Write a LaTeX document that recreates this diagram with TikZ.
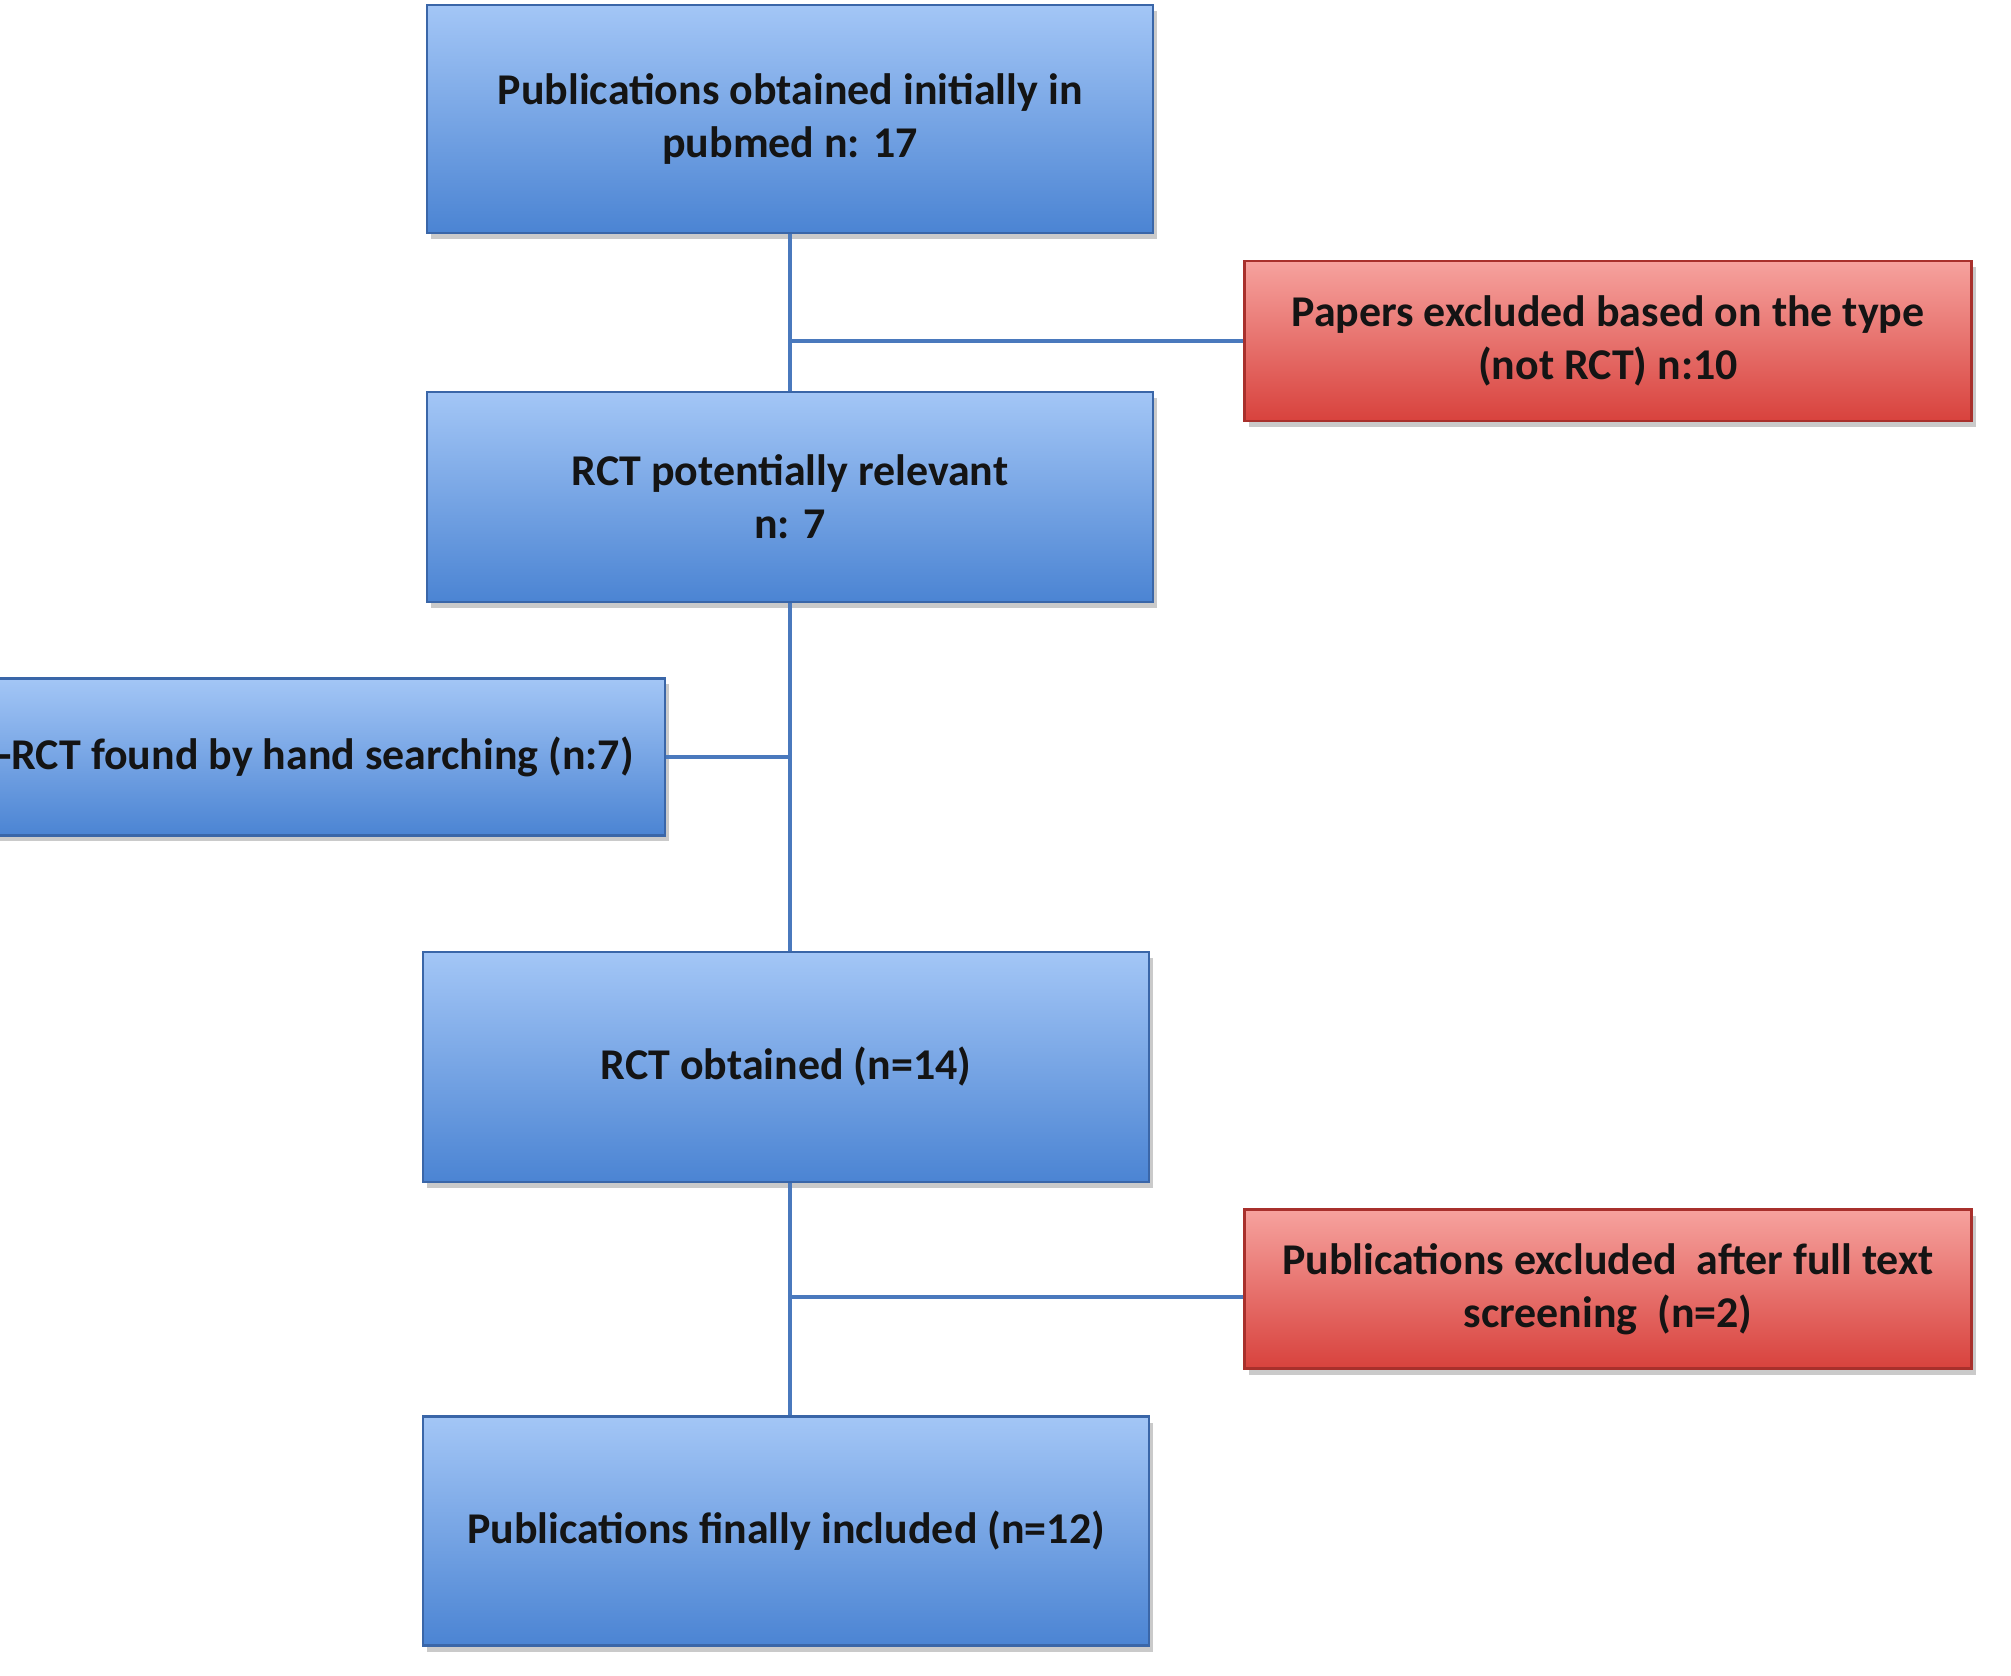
\documentclass[tikz,border=0pt]{standalone}
\usepackage{fontspec}
\setmainfont{Carlito}
\usetikzlibrary{positioning,shadows}
\definecolor{blueTop}{HTML}{A3C6F6}
\definecolor{blueBot}{HTML}{4B84D3}
\definecolor{blueEdge}{HTML}{3A66A8}
\definecolor{redTop}{HTML}{F6A29E}
\definecolor{redBot}{HTML}{D8423D}
\definecolor{redEdge}{HTML}{A8302C}
\definecolor{lineC}{HTML}{4A79BD}
\definecolor{inkC}{HTML}{141414}
\tikzset{
  boxBase/.style={rectangle,line width=0.7pt,align=center,
                  font=\fontsize{12.5}{15}\selectfont\bfseries,text=inkC,
                  inner sep=2pt,
                  drop shadow={shadow xshift=0.4mm,shadow yshift=-0.6mm,
                               opacity=0.35,fill=black!60}},
  nodeBlue/.style={boxBase,draw=blueEdge,top color=blueTop,bottom color=blueBot},
  nodeRed/.style={boxBase,draw=redEdge,top color=redTop,bottom color=redBot},
  flowLine/.style={line width=1.3pt,lineC},
}

\begin{document}
\begin{tikzpicture}[x=0.1mm,y=0.1mm]
\useasboundingbox (0,0) rectangle (2011,1675);
\clip (0,0) rectangle (2011,1675);

% main column of the flow
\node[nodeBlue,minimum width=72.6mm,minimum height=22.8mm] (obtained) at (790,1556)
  {Publications obtained initially in\\ pubmed n: 17};
\node[nodeBlue,minimum width=72.6mm,minimum height=21mm] (relevant) at (790,1178)
  {RCT potentially relevant\\ n: 7};
\node[nodeBlue,minimum width=72.6mm,minimum height=23mm] (rctTotal) at (786,608)
  {RCT obtained (n=14)};
\node[nodeBlue,minimum width=72.6mm,minimum height=22.9mm] (included) at (786,144)
  {Publications finally included (n=12)};

% side boxes
\node[nodeRed,minimum width=72.7mm,minimum height=16mm] (exclType) at (1608,1334)
  {Papers excluded based on the type\\ (not RCT) n:10};
\node[nodeBlue,minimum height=15.7mm,inner xsep=3.1mm,anchor=east]
  (handSearch) at (666,918) {-RCT found by hand searching (n:7)};
\node[nodeRed,minimum width=72.7mm,minimum height=15.9mm] (exclText) at (1608,386)
  {Publications excluded\ \ after full text\\ screening\ \ (n=2)};

\coordinate (spineTop) at (790,1444);
\coordinate (jType) at (spineTop |- exclType.west);
\coordinate (jHand) at (spineTop |- handSearch.east);
\coordinate (jText) at (790,378);

\draw[flowLine] (obtained.south) -- (relevant.north);
\draw[flowLine] (relevant.south) -- (spineTop |- rctTotal.north);
\draw[flowLine] (spineTop |- rctTotal.south) -- (spineTop |- included.north);
\draw[flowLine] (jType) -- (exclType.west);
\draw[flowLine] (handSearch.east) -- (jHand);
\draw[flowLine] (jText) -- (jText -| exclText.west);

\end{tikzpicture}
\end{document}
